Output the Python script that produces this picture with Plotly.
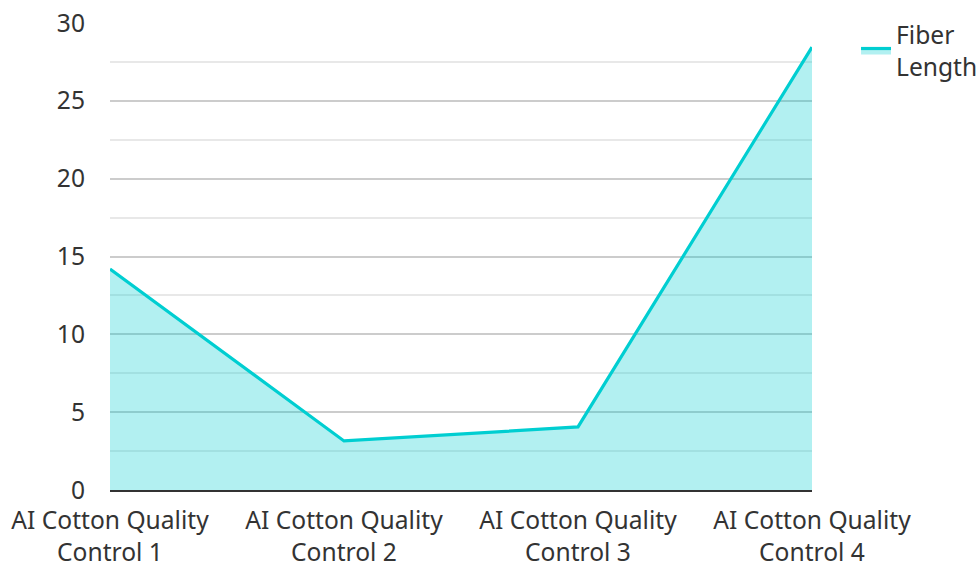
import plotly.graph_objects as go

categories = ["AI Cotton Quality<br>Control 1", "AI Cotton Quality<br>Control 2",
              "AI Cotton Quality<br>Control 3", "AI Cotton Quality<br>Control 4"]
fiber_length = [14.2, 3.15, 4.05, 28.45]
series_name = "Fiber<br>Length"

FS = 24.6

fig = go.Figure()
fig.add_trace(go.Scatter(
    x=categories, y=fiber_length, name=series_name, mode="lines",
    line=dict(color="#00CED1", width=3.2),
    fill="tozeroy", fillcolor="rgba(0,206,209,0.3)",
))

fig.update_layout(
    width=980, height=562,
    margin=dict(l=110, r=168, t=23, b=72, autoexpand=False),
    paper_bgcolor="white", plot_bgcolor="white",
    font=dict(family="Noto Sans", size=FS, color="#333333"),
    showlegend=True,
    legend=dict(xref="container", yref="container", x=0.8735, y=0.9786,
                xanchor="left", yanchor="top",
                font=dict(size=FS, color="#333333"), tracegroupgap=0),
)
fig.update_xaxes(
    type="category", range=[0, 3], showgrid=False, zeroline=False,
    showline=True, linecolor="#333333", linewidth=2, ticks="",
    ticklabelstandoff=7, automargin=False,
    tickfont=dict(size=FS, color="#333333"),
)
fig.update_yaxes(
    range=[0, 30], dtick=5, showgrid=True, gridcolor="#cccccc", gridwidth=1.5,
    zeroline=False, showline=False, ticks="", ticklabelstandoff=24,
    automargin=False,
    tickfont=dict(size=FS, color="#333333"),
    minor=dict(dtick=2.5, showgrid=True, gridcolor="#e8e8e8", gridwidth=1.5),
)

fig.write_html("out.html", config={"displayModeBar": False},
               post_script="document.body.style.margin='0';document.body.style.overflow='hidden';")
